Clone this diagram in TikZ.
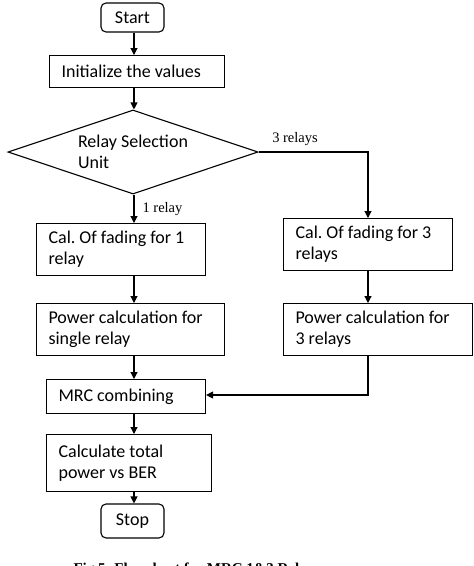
\documentclass[tikz,border=0pt]{standalone}
\usepackage{fontspec}
\setmainfont{Carlito}
\newfontfamily\capserif{Liberation Serif}
\usetikzlibrary{shapes.geometric,arrows.meta}
\frenchspacing
\begin{document}
\begin{tikzpicture}[x=1pt,y=-1pt,
  line width=1.1pt,
  arr/.style={-{Triangle[length=7pt,width=7pt]}},
  box/.style={draw, rectangle, align=flush left, inner xsep=12pt, inner ysep=0pt, anchor=north west, font=\fontsize{18}{21}\selectfont},
  term/.style={draw, rectangle, rounded corners=5pt, inner sep=0pt, font=\fontsize{18}{21}\selectfont},
  lbl/.style={font=\capserif\fontsize{14.5}{16}\selectfont, inner sep=0pt}
]
\useasboundingbox (0,0) rectangle (474,566);
\fill[white] (0,0) rectangle (474,566);

\node[term, minimum width=63pt, minimum height=29pt] (start) at (132.5,17.5) {Start};
\node[box, text width=151pt, minimum height=32pt] (init) at (49,55) {Initialize the values};
\node[draw, diamond, aspect=2.976, minimum width=250pt, minimum height=84pt, inner sep=0pt, align=flush left, font=\fontsize{18}{21}\selectfont] (rsu) at (133,152) {Relay Selection\\Unit};
\node[box, text width=145pt, minimum height=52pt] (cal1) at (36,223) {Cal. Of fading for 1\\relay};
\node[box, text width=145pt, minimum height=52pt] (cal3) at (283,218) {Cal. Of fading for 3\\relays};
\node[box, text width=164pt, minimum height=52pt] (pow1) at (36,303) {Power calculation for\\single relay};
\node[box, text width=165pt, minimum height=52pt] (pow3) at (283,303) {Power calculation for\\3 relays};
\node[box, text width=135pt, minimum height=34pt] (mrc) at (46,379) {MRC combining};
\node[box, text width=141pt, minimum height=57pt] (calc) at (46,434) {Calculate total\\power vs BER};
\node[term, minimum width=63pt, minimum height=34pt] (stop) at (132.5,521) {Stop};

\coordinate (sp) at (134,0);
\draw[arr] (sp |- start.south) -- (sp |- init.north);
\draw[arr] (sp |- init.south) -- (sp |- rsu.north);
\draw[arr] (sp |- rsu.south) -- (sp |- cal1.north) node[lbl, pos=0.5, anchor=west, xshift=8pt] (l1) {1 relay};
\coordinate (rc) at (368,0);
\draw[arr] (rsu.east) -- (rc |- rsu.east) -- (rc |- cal3.north);
\node[lbl, anchor=south] (l3) at (295,146) {3 relays};
\draw[arr] (sp |- cal1.south) -- (sp |- pow1.north);
\draw[arr] (rc |- cal3.south) -- (rc |- pow3.north);
\draw[arr] (sp |- pow1.south) -- (sp |- mrc.north);
\coordinate (mj) at (368,395);
\draw[arr] (rc |- pow3.south) -- (mj) -- (mj -| mrc.east);
\draw[arr] (sp |- mrc.south) -- (sp |- calc.north);
\draw[arr] (sp |- calc.south) -- (sp |- stop.north);

\begin{scope}
\clip (0,0) rectangle (474,566);
\node[font=\capserif\bfseries\fontsize{15}{17}\selectfont, anchor=base west, inner sep=0pt] (cap) at (73,573) {Fig 5: Flowchart for MRC 1\&3 Relays};
\end{scope}
\end{tikzpicture}
\end{document}
